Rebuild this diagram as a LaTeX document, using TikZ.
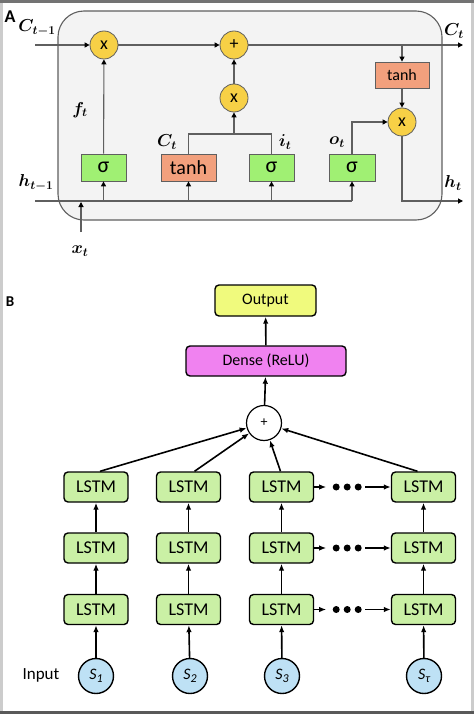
\documentclass[tikz,border=0pt]{standalone}
\usepackage{fontspec}
\setmainfont{Carlito}
\setsansfont{Carlito}
\usetikzlibrary{arrows.meta,calc}
\definecolor{cyel}{RGB}{247,208,70}
\definecolor{cgrn}{RGB}{160,240,115}
\definecolor{csal}{RGB}{242,160,125}
\definecolor{clstm}{RGB}{202,240,165}
\definecolor{cout}{RGB}{240,250,125}
\definecolor{cden}{RGB}{240,130,240}
\definecolor{cinp}{RGB}{190,225,245}
\definecolor{cbg}{RGB}{243,243,243}
\definecolor{cgl}{RGB}{95,95,95}
\newcommand{\mlab}[1]{{\fontsize{17}{17}\selectfont\boldmath$#1$}}
\newcommand{\sval}[1]{{\fontsize{16}{16}\selectfont\itshape S\raisebox{-2.5pt}{\fontsize{12}{12}\selectfont #1}}}
\tikzset{
  gline/.style={draw=cgl,line width=1.1pt},
  garr/.style={gline,-{Triangle[length=5pt,width=5pt,color=black]}},
  opc/.style={circle,draw=cgl,line width=0.8pt,fill=cyel,minimum size=28pt,inner sep=0pt,font=\fontsize{18}{18}\selectfont},
  gbox/.style={rectangle,draw=cgl,line width=0.8pt,fill=cgrn,minimum width=45pt,minimum height=27pt,inner sep=0pt,font=\fontsize{22}{22}\selectfont},
  tbox/.style={rectangle,draw=cgl,line width=0.8pt,fill=csal,minimum width=55pt,minimum height=27pt,inner sep=0pt,font=\fontsize{20}{20}\selectfont},
  bline/.style={draw=black,line width=1.6pt},
  barr/.style={bline,-{Latex[length=7pt,width=5.5pt]}},
  lstm/.style={rectangle,rounded corners=4pt,draw=black,line width=1.4pt,fill=clstm,minimum width=64pt,minimum height=30pt,inner sep=0pt,font=\fontsize{18}{18}\selectfont},
  inpc/.style={circle,draw=black,line width=1.4pt,fill=cinp,minimum size=35pt,inner sep=0pt},
  dotn/.style={circle,fill=black,minimum size=7pt,inner sep=0pt}
}
\begin{document}
\begin{tikzpicture}[x=1pt,y=-1pt]
\useasboundingbox (0,0) rectangle (474,714);
\fill[white] (0,0) rectangle (474,714);
\fill[black!20] (0,0) rectangle (3,714);
\fill[black!20] (471,0) rectangle (474,714);
\fill[black!55] (0,0) rectangle (474,3);
\fill[black!65] (0,710.5) rectangle (474,714);

% ---------- Part A ----------
\draw[draw=cgl,line width=1.1pt,fill=cbg,rounded corners=26pt] (58,11) rectangle (442,220);
\node[font=\fontsize{18}{18}\selectfont\bfseries\sffamily] (labA) at (10,17) {A};

\node[opc] (m1) at (104,45) {x};
\node[opc] (p1) at (234,45) {+};
\node[opc] (m2) at (234,98) {x};
\node[tbox,minimum width=54pt,minimum height=26pt,font=\fontsize{16}{16}\selectfont] (th2) at (402,75) {tanh};
\node[opc] (m3) at (402,122) {x};
\node[gbox] (s1) at (103.5,167.5) {σ};
\node[tbox] (th1) at (188.5,167.5) {tanh};
\node[gbox] (s2) at (271.5,167.5) {σ};
\node[gbox,minimum width=46pt] (s3) at (352,167.5) {σ};

\coordinate (cin) at (35,45);
\coordinate (cend) at (463,45);
\coordinate (cj) at (402,45);
\coordinate (hin) at (35,201);
\coordinate (hend) at (352,201);
\coordinate (hout) at (463,201);
\coordinate (j1) at (234,134);
\coordinate (xin) at (81,232);
\coordinate (xon) at (81,202);

\draw[garr] (cin) -- (m1);
\draw[garr] (m1) -- (p1);
\draw[garr] (p1) -- (cend);
\draw[garr] (cj) -- (th2);
\draw[garr] (th2) -- (m3);
\draw[garr] (s1) -- (m1);
\draw[garr] (m2) -- (p1);
\draw[gline] (th1.north) |- (j1) -| (s2.north);
\draw[garr] (j1) -- (m2);
\draw[garr] (s3.north) |- (m3);
\draw[garr] (m3) |- (hout);
\draw[gline] (hin) -- (hend);
\draw[garr] (hin -| s1) -- (s1);
\draw[garr] (hin -| th1) -- (th1);
\draw[garr] (hin -| s2) -- (s2);
\draw[garr] (hin -| s3) -- (s3);
\draw[garr] (xin) -- (xon);

\node (lc1) at (37,28) {\mlab{C_{t-1}}};
\node (lc2) at (454,31) {\mlab{C_t}};
\node (lf) at (80,110) {\mlab{f_t}};
\node (lc3) at (167,142) {\mlab{C_t}};
\node (li) at (285,142) {\mlab{i_t}};
\node (lo) at (337,142) {\mlab{o_t}};
\node (lh1) at (36,183) {\mlab{h_{t-1}}};
\node (lh2) at (453,183) {\mlab{h_t}};
\node (lx) at (80,251) {\mlab{x_t}};

% ---------- Part B ----------
\node[font=\fontsize{15}{15}\selectfont\bfseries\sffamily] (labB) at (10,302) {B};
\node[rectangle,rounded corners=4pt,draw=black,line width=1.4pt,fill=cout,minimum width=101pt,minimum height=31pt,font=\fontsize{16}{16}\selectfont] (outp) at (265.5,300.5) {Output};
\node[rectangle,rounded corners=4pt,draw=black,line width=1.4pt,fill=cden,minimum width=160pt,minimum height=30pt,font=\fontsize{16}{16}\selectfont] (dense) at (266,361) {Dense (ReLU)};
\node[circle,draw=black,line width=1.2pt,fill=white,minimum size=35pt,inner sep=0pt,font=\fontsize{14}{14}\selectfont] (plus) at (264,423) {+};
\draw[barr] (dense) -- (outp);
\draw[barr] (plus) -- (dense);

\foreach \c/\x in {1/96,2/188.5,3/281.5,4/423.5}{
  \node[lstm] (l\c a) at (\x,487) {LSTM};
  \node[lstm] (l\c b) at (\x,548) {LSTM};
  \node[lstm] (l\c c) at (\x,609.5) {LSTM};
  \draw[barr] (l\c c) -- (l\c b);
  \draw[barr] (l\c b) -- (l\c a);
}
\node[inpc] (i1) at (96,676) {\sval{1}};
\node[inpc] (i2) at (190,676) {\sval{2}};
\node[inpc] (i3) at (282,676) {\sval{3}};
\node[inpc] (i4) at (424,676) {\sval{τ}};
\draw[barr] (i1) -- (l1c);
\draw[barr] (i2) -- (l2c);
\draw[barr] (i3) -- (l3c);
\draw[barr] (i4) -- (l4c);
\node[font=\fontsize{17}{17}\selectfont] (inl) at (41,675) {Input};

\draw[barr] ([xshift=4pt]l1a.north) -- (plus);
\draw[barr] ([xshift=6pt]l2a.north) -- (plus);
\draw[barr] ([xshift=-1pt]l3a.north) -- (plus);
\draw[barr] ([xshift=-6pt]l4a.north) -- (plus);

\foreach \r in {a,b,c}{
  \coordinate (d\r0) at ($(l3\r.east)+(12,0)$);
  \node[dotn] (d\r1) at ($(l3\r.east)+(22,0)$) {};
  \node[dotn] (d\r2) at ($(l3\r.east)+(33,0)$) {};
  \node[dotn] (d\r3) at ($(l3\r.east)+(44,0)$) {};
  \coordinate (d\r4) at ($(l3\r.east)+(51,0)$);
  \draw[barr] (l3\r.east) -- (d\r0);
  \draw[barr] (d\r4) -- (l4\r.west);
}
\end{tikzpicture}
\end{document}
